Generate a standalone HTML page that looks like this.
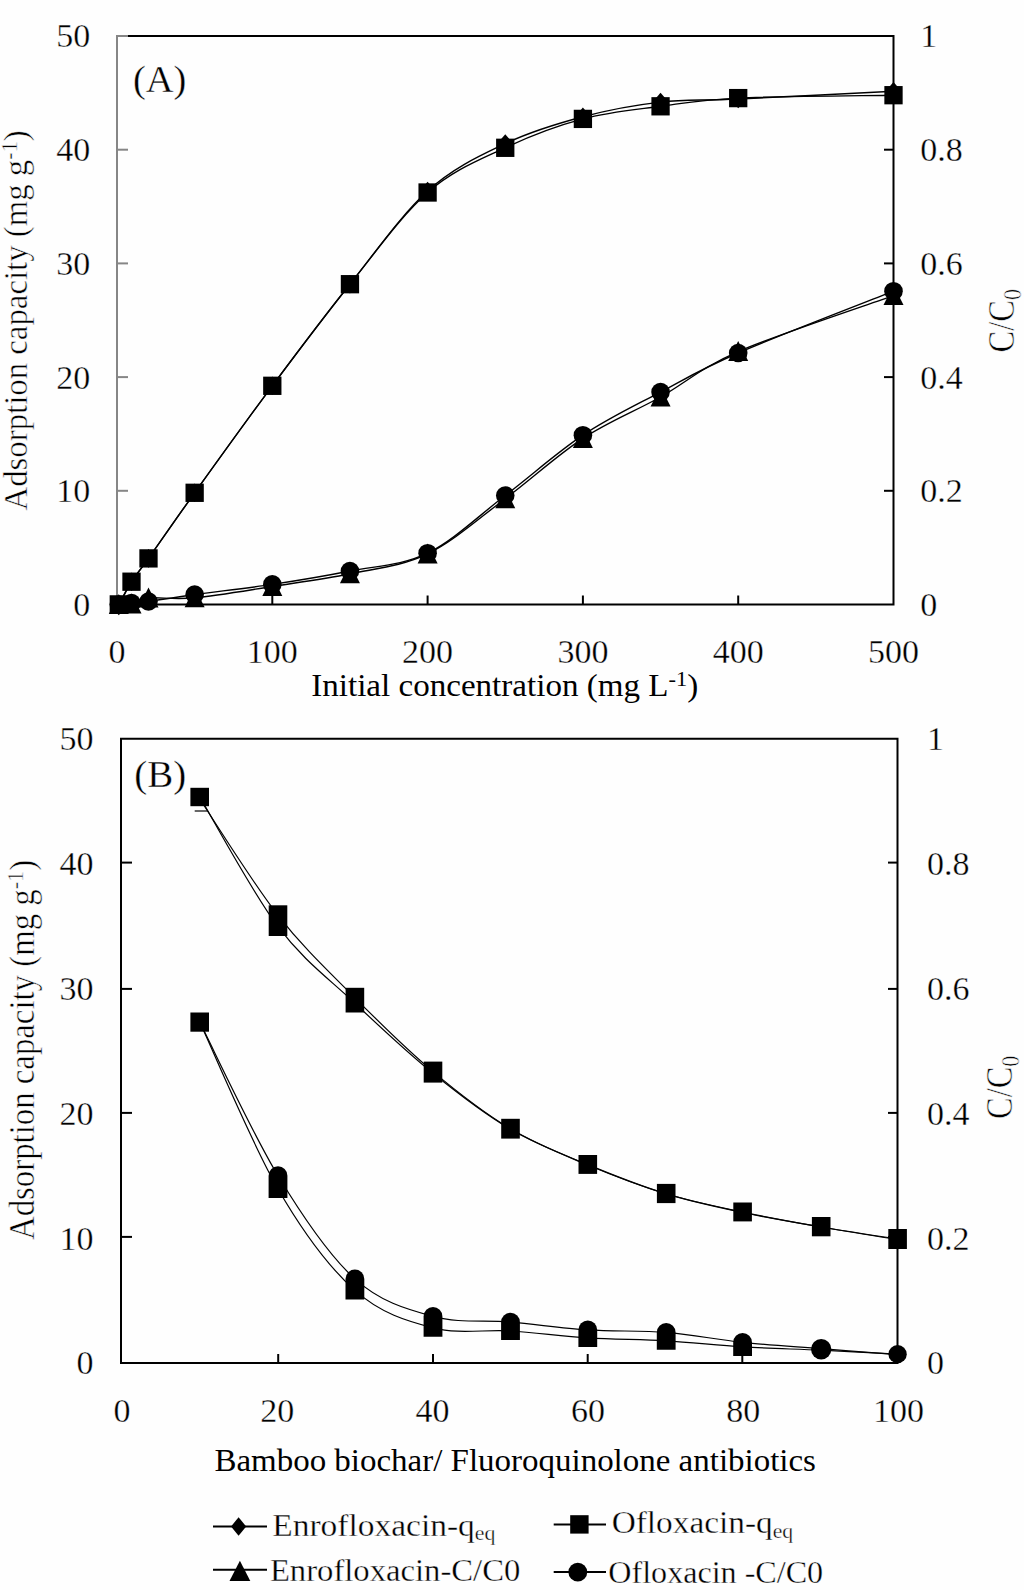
<!DOCTYPE html>
<html><head><meta charset="utf-8"><style>
html,body{margin:0;padding:0;background:#fefefe;overflow:hidden;width:1024px;height:1590px;}
svg{display:block;}
text{font-family:"Liberation Serif", "Times New Roman", serif;fill:#000;stroke:#fefefe;stroke-width:0.35px;}
text.r{stroke-width:0.5px;}
text.h{stroke-width:0;stroke:none;}
</style></head><body>
<svg width="1024" height="1590" viewBox="0 0 1024 1590">
<g fill="none" stroke-linecap="butt">
<path d="M117.00 36.00H893.50V604.50H117.00" stroke="#000" stroke-width="2"/>
<path d="M117.00 35.00V604.50" stroke="#868686" stroke-width="2"/>
<path d="M117.00 490.80H128.00" stroke="#868686" stroke-width="2"/>
<path d="M117.00 377.10H128.00" stroke="#868686" stroke-width="2"/>
<path d="M117.00 263.40H128.00" stroke="#868686" stroke-width="2"/>
<path d="M117.00 149.70H128.00" stroke="#868686" stroke-width="2"/>
<path d="M117.00 36.00H128.00" stroke="#868686" stroke-width="2"/>
<path d="M884.00 490.80H893.50" stroke="#000" stroke-width="2"/>
<path d="M884.00 377.10H893.50" stroke="#000" stroke-width="2"/>
<path d="M884.00 263.40H893.50" stroke="#000" stroke-width="2"/>
<path d="M884.00 149.70H893.50" stroke="#000" stroke-width="2"/>
<path d="M272.30 604.50V595.50" stroke="#000" stroke-width="2"/>
<path d="M427.60 604.50V595.50" stroke="#000" stroke-width="2"/>
<path d="M582.90 604.50V595.50" stroke="#000" stroke-width="2"/>
<path d="M738.20 604.50V595.50" stroke="#000" stroke-width="2"/>
</g>
<g fill="none" stroke="#000" stroke-width="1.4">
<path d="M118.80 606.00 C120.92 601.95 126.55 589.63 131.50 581.70 C136.45 573.77 137.97 573.22 148.50 558.40 C159.03 543.58 174.02 521.57 194.65 492.80 C215.28 464.03 246.42 420.57 272.30 385.80 C298.18 351.03 324.07 316.67 349.95 284.20 C375.83 251.73 401.72 214.43 427.60 191.00 C453.48 167.57 479.37 155.98 505.25 143.60 C531.13 131.22 557.02 123.62 582.90 116.70 C608.78 109.78 634.67 105.05 660.55 102.10 C686.43 99.15 699.38 100.82 738.20 99.00 C777.03 97.18 867.62 92.50 893.50 91.20"/>
<path d="M118.80 604.40 C120.92 600.62 126.55 589.37 131.50 581.70 C136.45 574.03 137.97 573.22 148.50 558.40 C159.03 543.58 174.02 521.57 194.65 492.80 C215.28 464.03 246.42 420.57 272.30 385.80 C298.18 351.03 324.07 316.42 349.95 284.20 C375.83 251.98 401.72 215.23 427.60 192.50 C453.48 169.77 479.37 160.07 505.25 147.80 C531.13 135.53 557.02 125.82 582.90 118.90 C608.78 111.98 634.67 109.77 660.55 106.30 C686.43 102.83 699.38 99.95 738.20 98.10 C777.03 96.25 867.62 95.68 893.50 95.20"/>
<path d="M118.80 604.50 C120.92 604.42 126.55 605.08 131.50 604.00 C136.45 602.92 137.97 599.03 148.50 598.00 C159.03 596.97 174.02 599.72 194.65 597.80 C215.28 595.88 246.42 590.50 272.30 586.50 C298.18 582.50 324.07 579.23 349.95 573.80 C375.83 568.37 401.72 566.42 427.60 553.90 C453.48 541.38 479.37 517.95 505.25 498.70 C531.13 479.45 557.02 455.35 582.90 438.40 C608.78 421.45 634.67 411.47 660.55 397.00 C686.43 382.53 699.38 368.50 738.20 351.60 C777.03 334.70 867.62 304.93 893.50 295.60"/>
<path d="M118.80 604.50 C120.92 604.25 126.55 603.50 131.50 603.00 C136.45 602.50 137.97 602.92 148.50 601.50 C159.03 600.08 174.02 597.35 194.65 594.50 C215.28 591.65 246.42 588.32 272.30 584.40 C298.18 580.48 324.07 576.20 349.95 571.00 C375.83 565.80 401.72 565.78 427.60 553.20 C453.48 540.62 479.37 515.17 505.25 495.50 C531.13 475.83 557.02 452.43 582.90 435.20 C608.78 417.97 634.67 405.80 660.55 392.10 C686.43 378.40 699.38 369.82 738.20 353.00 C777.03 336.18 867.62 301.50 893.50 291.20"/>
</g>
<g fill="#000">
<path d="M118.80 594.00L128.80 614.00L108.80 614.00Z"/>
<path d="M131.50 593.50L141.50 613.50L121.50 613.50Z"/>
<path d="M148.50 587.50L158.50 607.50L138.50 607.50Z"/>
<path d="M194.65 587.30L204.65 607.30L184.65 607.30Z"/>
<path d="M272.30 576.00L282.30 596.00L262.30 596.00Z"/>
<path d="M349.95 563.30L359.95 583.30L339.95 583.30Z"/>
<path d="M427.60 543.40L437.60 563.40L417.60 563.40Z"/>
<path d="M505.25 488.20L515.25 508.20L495.25 508.20Z"/>
<path d="M582.90 427.90L592.90 447.90L572.90 447.90Z"/>
<path d="M660.55 386.50L670.55 406.50L650.55 406.50Z"/>
<path d="M738.20 341.10L748.20 361.10L728.20 361.10Z"/>
<path d="M893.50 285.10L903.50 305.10L883.50 305.10Z"/>
<circle cx="118.80" cy="604.50" r="9.3"/>
<circle cx="131.50" cy="603.00" r="9.3"/>
<circle cx="148.50" cy="601.50" r="9.3"/>
<circle cx="194.65" cy="594.50" r="9.3"/>
<circle cx="272.30" cy="584.40" r="9.3"/>
<circle cx="349.95" cy="571.00" r="9.3"/>
<circle cx="427.60" cy="553.20" r="9.3"/>
<circle cx="505.25" cy="495.50" r="9.3"/>
<circle cx="582.90" cy="435.20" r="9.3"/>
<circle cx="660.55" cy="392.10" r="9.3"/>
<circle cx="738.20" cy="353.00" r="9.3"/>
<circle cx="893.50" cy="291.20" r="9.3"/>
<path d="M118.80 596.70L126.80 606.00L118.80 615.30L110.80 606.00Z"/>
<path d="M131.50 572.40L139.50 581.70L131.50 591.00L123.50 581.70Z"/>
<path d="M148.50 549.10L156.50 558.40L148.50 567.70L140.50 558.40Z"/>
<path d="M194.65 483.50L202.65 492.80L194.65 502.10L186.65 492.80Z"/>
<path d="M272.30 376.50L280.30 385.80L272.30 395.10L264.30 385.80Z"/>
<path d="M349.95 274.90L357.95 284.20L349.95 293.50L341.95 284.20Z"/>
<path d="M427.60 181.70L435.60 191.00L427.60 200.30L419.60 191.00Z"/>
<path d="M505.25 134.30L513.25 143.60L505.25 152.90L497.25 143.60Z"/>
<path d="M582.90 107.40L590.90 116.70L582.90 126.00L574.90 116.70Z"/>
<path d="M660.55 92.80L668.55 102.10L660.55 111.40L652.55 102.10Z"/>
<path d="M738.20 89.70L746.20 99.00L738.20 108.30L730.20 99.00Z"/>
<path d="M893.50 81.90L901.50 91.20L893.50 100.50L885.50 91.20Z"/>
<rect x="109.65" y="595.25" width="18.3" height="18.3"/>
<rect x="122.35" y="572.55" width="18.3" height="18.3"/>
<rect x="139.35" y="549.25" width="18.3" height="18.3"/>
<rect x="185.50" y="483.65" width="18.3" height="18.3"/>
<rect x="263.15" y="376.65" width="18.3" height="18.3"/>
<rect x="340.80" y="275.05" width="18.3" height="18.3"/>
<rect x="418.45" y="183.35" width="18.3" height="18.3"/>
<rect x="496.10" y="138.65" width="18.3" height="18.3"/>
<rect x="573.75" y="109.75" width="18.3" height="18.3"/>
<rect x="651.40" y="97.15" width="18.3" height="18.3"/>
<rect x="729.05" y="88.95" width="18.3" height="18.3"/>
<rect x="884.35" y="86.05" width="18.3" height="18.3"/>
</g>
<text x="90.20" y="615.90" text-anchor="end" font-size="34.00">0</text>
<text x="90.20" y="502.20" text-anchor="end" font-size="34.00">10</text>
<text x="90.20" y="388.50" text-anchor="end" font-size="34.00">20</text>
<text x="90.20" y="274.80" text-anchor="end" font-size="34.00">30</text>
<text x="90.20" y="161.10" text-anchor="end" font-size="34.00">40</text>
<text x="90.20" y="47.40" text-anchor="end" font-size="34.00">50</text>
<text x="920.30" y="615.90" text-anchor="start" font-size="34.00">0</text>
<text x="920.30" y="502.20" text-anchor="start" font-size="34.00">0.2</text>
<text x="920.30" y="388.50" text-anchor="start" font-size="34.00">0.4</text>
<text x="920.30" y="274.80" text-anchor="start" font-size="34.00">0.6</text>
<text x="920.30" y="161.10" text-anchor="start" font-size="34.00">0.8</text>
<text x="920.30" y="47.40" text-anchor="start" font-size="34.00">1</text>
<text x="117.00" y="663.30" text-anchor="middle" font-size="34.00">0</text>
<text x="272.30" y="663.30" text-anchor="middle" font-size="34.00">100</text>
<text x="427.60" y="663.30" text-anchor="middle" font-size="34.00">200</text>
<text x="582.90" y="663.30" text-anchor="middle" font-size="34.00">300</text>
<text x="738.20" y="663.30" text-anchor="middle" font-size="34.00">400</text>
<text x="893.50" y="663.30" text-anchor="middle" font-size="34.00">500</text>
<g fill="none" stroke="#000" stroke-width="2">
<path d="M121.00 738.80H897.50V1363.00H121.00Z"/>
<path d="M121.00 1236.90H132.00"/>
<path d="M121.00 1112.90H132.00"/>
<path d="M121.00 988.90H132.00"/>
<path d="M121.00 862.60H132.00"/>
<path d="M888.00 1236.90H897.50"/>
<path d="M888.00 1112.90H897.50"/>
<path d="M888.00 988.90H897.50"/>
<path d="M888.00 862.60H897.50"/>
<path d="M278.20 1363.00V1354.00"/>
<path d="M433.00 1363.00V1354.00"/>
<path d="M587.70 1363.00V1354.00"/>
<path d="M742.30 1363.00V1354.00"/>
</g>
<g fill="none" stroke="#000" stroke-width="1.2">
<path d="M199.70 799.00 C212.75 818.38 252.13 882.17 278.00 915.30 C303.87 948.43 329.07 971.75 354.90 997.80 C380.73 1023.85 407.07 1049.77 433.00 1071.60 C458.93 1093.43 484.70 1113.23 510.50 1128.80 C536.30 1144.37 561.85 1154.15 587.80 1165.00 C613.75 1175.85 640.40 1185.98 666.20 1193.90 C692.00 1201.82 716.77 1206.98 742.60 1212.50 C768.43 1218.02 795.37 1222.58 821.20 1227.00 C847.03 1231.42 884.87 1237.00 897.60 1239.00"/>
<path d="M199.70 796.90 C212.75 818.53 252.13 892.32 278.00 926.70 C303.87 961.08 329.07 978.77 354.90 1003.20 C380.73 1027.63 407.07 1052.28 433.00 1073.30 C458.93 1094.32 484.70 1114.08 510.50 1129.30 C536.30 1144.52 561.85 1153.85 587.80 1164.60 C613.75 1175.35 640.40 1185.88 666.20 1193.80 C692.00 1201.72 716.77 1206.57 742.60 1212.10 C768.43 1217.63 795.37 1222.40 821.20 1227.00 C847.03 1231.60 884.87 1237.58 897.60 1239.70"/>
<path d="M199.70 1022.10 C212.75 1049.92 252.13 1144.28 278.00 1189.00 C303.87 1233.72 329.07 1267.27 354.90 1290.40 C380.73 1313.53 407.07 1321.03 433.00 1327.80 C458.93 1334.57 484.70 1329.32 510.50 1331.00 C536.30 1332.68 561.85 1336.27 587.80 1337.90 C613.75 1339.53 640.40 1339.30 666.20 1340.80 C692.00 1342.30 716.77 1345.33 742.60 1346.90 C768.43 1348.47 795.37 1349.00 821.20 1350.20 C847.03 1351.40 884.87 1353.45 897.60 1354.10"/>
<path d="M199.70 1022.10 C212.75 1047.70 252.13 1132.90 278.00 1175.70 C303.87 1218.50 329.07 1255.45 354.90 1278.90 C380.73 1302.35 407.07 1309.20 433.00 1316.40 C458.93 1323.60 484.70 1319.85 510.50 1322.10 C536.30 1324.35 561.85 1328.18 587.80 1329.90 C613.75 1331.62 640.40 1330.32 666.20 1332.40 C692.00 1334.48 716.77 1339.68 742.60 1342.40 C768.43 1345.12 795.37 1346.67 821.20 1348.70 C847.03 1350.73 884.87 1353.62 897.60 1354.60"/>
</g>
<g fill="#000">
<rect x="190.40" y="787.80" width="18.60" height="18.40"/>
<rect x="268.70" y="905.30" width="18.60" height="30.70"/>
<rect x="345.60" y="987.80" width="18.60" height="24.70"/>
<rect x="423.70" y="1061.60" width="18.60" height="21.00"/>
<rect x="501.20" y="1118.80" width="18.60" height="19.80"/>
<rect x="578.50" y="1155.00" width="18.60" height="18.90"/>
<rect x="656.90" y="1183.90" width="18.60" height="19.20"/>
<rect x="733.30" y="1202.50" width="18.60" height="18.90"/>
<rect x="811.90" y="1217.00" width="18.60" height="19.30"/>
<rect x="888.30" y="1229.00" width="18.60" height="20.00"/>
<path d="M194.70 811H207.70" stroke="#000" stroke-width="1.2"/>
<rect x="190.40" y="1012.50" width="18.60" height="19.20"/>
<path d="M268.60 1198.00V1175.70A9.40 9.40 0 0 1 287.40 1175.70V1198.00Z"/>
<path d="M345.50 1299.40V1278.90A9.40 9.40 0 0 1 364.30 1278.90V1299.40Z"/>
<path d="M423.60 1336.80V1316.40A9.40 9.40 0 0 1 442.40 1316.40V1336.80Z"/>
<path d="M501.10 1340.00V1322.10A9.40 9.40 0 0 1 519.90 1322.10V1340.00Z"/>
<path d="M578.40 1346.90V1329.90A9.40 9.40 0 0 1 597.20 1329.90V1346.90Z"/>
<path d="M656.80 1349.80V1332.40A9.40 9.40 0 0 1 675.60 1332.40V1349.80Z"/>
<path d="M733.20 1355.90V1342.40A9.40 9.40 0 0 1 752.00 1342.40V1355.90Z"/>
<circle cx="821.20" cy="1349.25" r="10.15"/>
<circle cx="897.60" cy="1354.15" r="9.15"/>
</g>
<text x="93.50" y="1374.40" text-anchor="end" font-size="34.00">0</text>
<text x="93.50" y="1249.56" text-anchor="end" font-size="34.00">10</text>
<text x="93.50" y="1124.72" text-anchor="end" font-size="34.00">20</text>
<text x="93.50" y="999.88" text-anchor="end" font-size="34.00">30</text>
<text x="93.50" y="875.04" text-anchor="end" font-size="34.00">40</text>
<text x="93.50" y="750.20" text-anchor="end" font-size="34.00">50</text>
<text x="927.00" y="1374.40" text-anchor="start" font-size="34.00">0</text>
<text x="927.00" y="1249.56" text-anchor="start" font-size="34.00">0.2</text>
<text x="927.00" y="1124.72" text-anchor="start" font-size="34.00">0.4</text>
<text x="927.00" y="999.88" text-anchor="start" font-size="34.00">0.6</text>
<text x="927.00" y="875.04" text-anchor="start" font-size="34.00">0.8</text>
<text x="927.00" y="750.20" text-anchor="start" font-size="34.00">1</text>
<text x="122.00" y="1422.20" text-anchor="middle" font-size="34.00">0</text>
<text x="277.30" y="1422.20" text-anchor="middle" font-size="34.00">20</text>
<text x="432.60" y="1422.20" text-anchor="middle" font-size="34.00">40</text>
<text x="587.90" y="1422.20" text-anchor="middle" font-size="34.00">60</text>
<text x="743.20" y="1422.20" text-anchor="middle" font-size="34.00">80</text>
<text x="898.50" y="1422.20" text-anchor="middle" font-size="34.00">100</text>
<g stroke="#000" stroke-width="2">
<path d="M213 1526.5H267M553.7 1524.4H606M213 1569.8H267M553.7 1572H606"/>
</g>
<g fill="#000">
<path d="M238.6 1517.3L246.2 1526.5L238.6 1535.8L231 1526.5Z"/>
<rect x="570.20" y="1515.20" width="18.40" height="18.40"/>
<path d="M239.9 1560.7L250.3 1580.9L229.5 1580.9Z"/>
<circle cx="577.80" cy="1572.20" r="9.41"/>
</g>
<text transform="translate(132.91 92.30) scale(0.9865 0.9865)" font-size="39">(A)</text>
<text transform="translate(134.30 787.00) scale(0.9980 0.9980)" font-size="39">(B)</text>
<text transform="translate(27.35 510.50) rotate(-90) scale(0.9942 1.0212)" font-size="33" class="r">Adsorption capacity (mg g<tspan font-size="22.4" dy="-10.6">-1</tspan><tspan dy="10.6">)</tspan></text>
<text transform="translate(34.10 1240.00) rotate(-90) scale(0.9940 1.0576)" font-size="33" class="r">Adsorption capacity (mg g<tspan font-size="22.4" dy="-10.6">-1</tspan><tspan dy="10.6">)</tspan></text>
<text transform="translate(1014.34 352.52) rotate(-90) scale(1.0197 1.1923)" font-size="32" class="r">C/C<tspan font-size="21.8" dy="5.3">0</tspan></text>
<text transform="translate(1012.40 1119.01) rotate(-90) scale(1.0148 1.1808)" font-size="32" class="r">C/C<tspan font-size="21.8" dy="5.3">0</tspan></text>
<text transform="translate(311.20 696.20) scale(1.0026 0.9625)" font-size="33" class="h">Initial concentration (mg L<tspan font-size="22.4" dy="-10.6">-1</tspan><tspan dy="10.6">)</tspan></text>
<text transform="translate(214.40 1471.20) scale(0.9992 0.9592)" font-size="33" class="h">Bamboo biochar/ Fluoroquinolone antibiotics</text>
<text transform="translate(272.29 1535.50) scale(1.0142 0.9736)" font-size="33">Enrofloxacin-q<tspan font-size="21.5" dy="4.3">eq</tspan></text>
<text transform="translate(269.91 1580.80) scale(0.9904 0.9508)" font-size="33">Enrofloxacin-C/C0</text>
<text transform="translate(611.69 1533.40) scale(1.0101 0.9697)" font-size="33">Ofloxacin-q<tspan font-size="21.5" dy="4.3">eq</tspan></text>
<text transform="translate(608.33 1582.80) scale(0.9726 0.9337)" font-size="33">Ofloxacin -C/C0</text>
</svg>
</body></html>
